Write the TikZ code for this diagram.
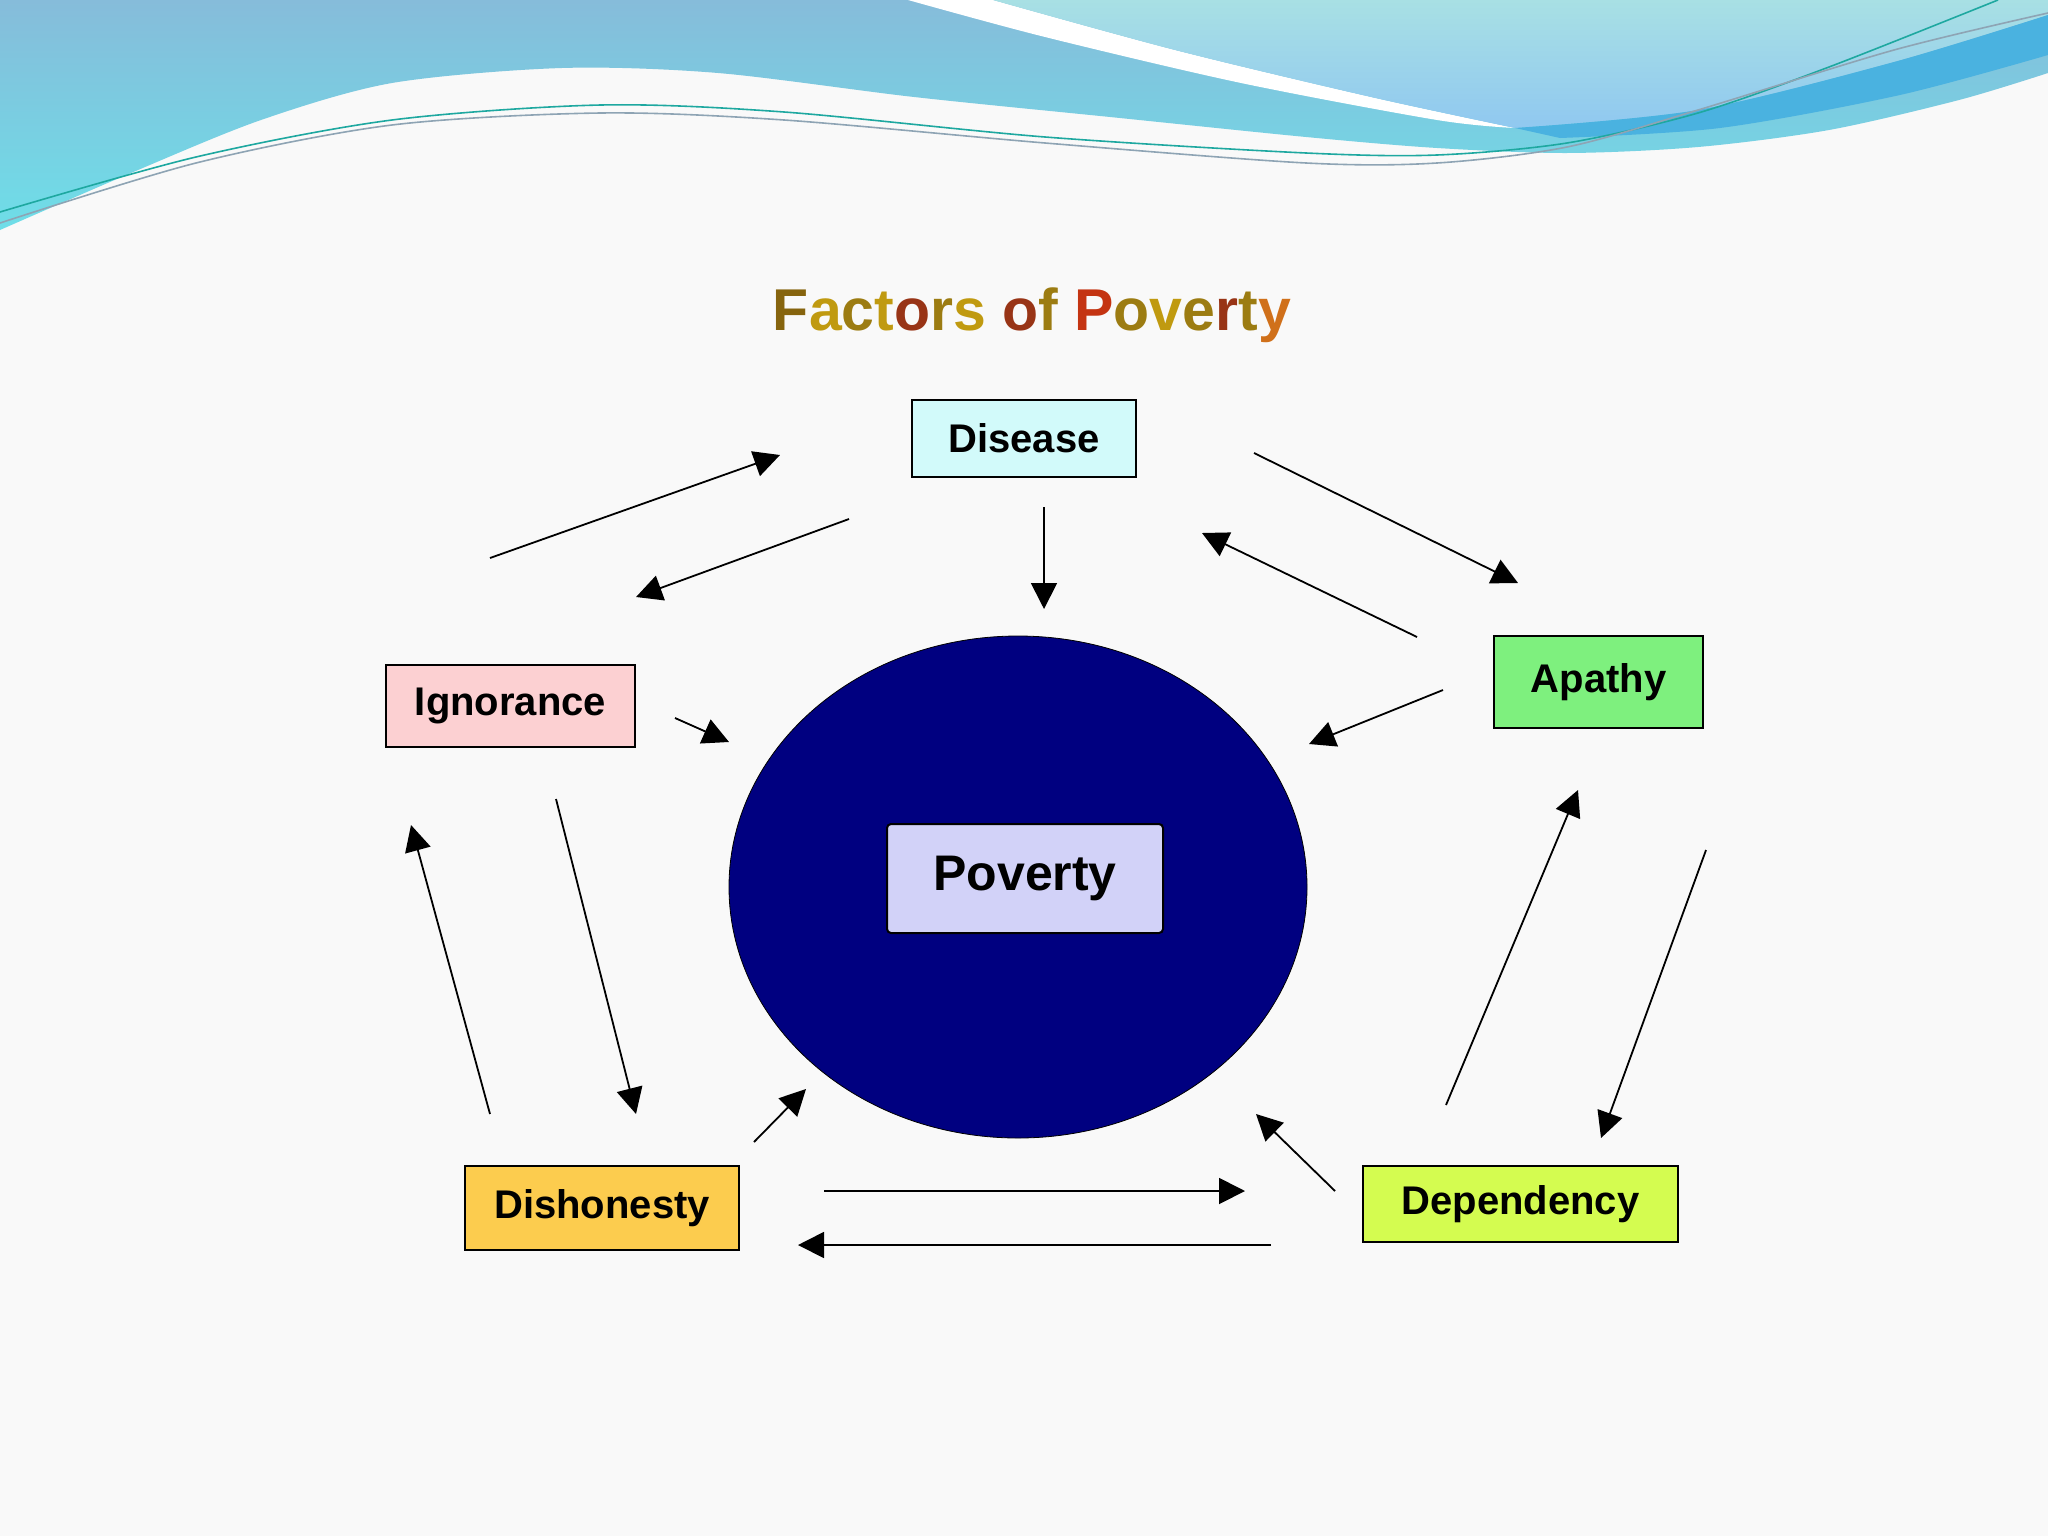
\documentclass[tikz,border=0pt]{standalone}
\usepackage{fontspec}
\setmainfont{Liberation Sans}
\usetikzlibrary{arrows.meta,shapes.geometric}

\definecolor{pagebg}{HTML}{F9F9F9}
\definecolor{waveTop}{HTML}{86BCDA}
\definecolor{waveLow}{HTML}{6EDEE8}
\definecolor{capTop}{HTML}{A8E0E4}
\definecolor{capLow}{HTML}{90C8F0}
\definecolor{band}{HTML}{4AB2E0}
\definecolor{tealline}{HTML}{1EA8A0}
\definecolor{greyline}{HTML}{8EA4B4}
\definecolor{cDisease}{HTML}{D2FAFA}
\definecolor{cIgnorance}{HTML}{FCD0D2}
\definecolor{cPoverty}{HTML}{D2D2F8}
\definecolor{cApathy}{HTML}{7EF07E}
\definecolor{cDishonesty}{HTML}{FCCC4E}
\definecolor{cDependency}{HTML}{D4FC50}
\definecolor{navy}{HTML}{000080}
\definecolor{tbrown}{HTML}{86640E}
\definecolor{tgold}{HTML}{C09A10}
\definecolor{tolive}{HTML}{9C7C12}
\definecolor{tred}{HTML}{983416}
\definecolor{tpee}{HTML}{C43412}
\definecolor{torange}{HTML}{D0701A}

\newcommand{\tc}[2]{\textcolor{#1}{#2}}

\begin{document}
\begin{tikzpicture}[x=0.5pt,y=-0.5pt,
  factor/.style={draw=black,line width=1pt,inner sep=0pt,
    font=\bfseries\fontsize{20}{24}\selectfont},
  link/.style={line width=0.9pt,-{Triangle[length=13pt,width=13pt]}}]
\useasboundingbox (0,0) rectangle (2048,1536);
\fill[pagebg] (0,0) rectangle (2048,1536);

% header wave
\shade[top color=waveTop,bottom color=waveLow] (0,0) -- (2048,0) -- plot[smooth] coordinates
  {(2048,73) (1959,100) (1829,130) (1698,147) (1567,153) (1437,148) (1306,137) (1110,117)
   (914,97) (718,73) (562,68) (392,83) (261,120) (131,173) (0,230)} -- cycle;
\fill[white] plot[smooth] coordinates {(908,0) (1045,37) (1241,83) (1437,120) (1515,128)}
  -- plot[smooth] coordinates {(1515,128) (1371,97) (1175,50) (993,0)} -- cycle;
\shade[top color=capTop,bottom color=capLow] (993,0) -- (2048,0) -- (2048,15)
  -- plot[smooth] coordinates {(2048,15) (1894,62) (1698,110) (1515,128)}
  -- plot[smooth] coordinates {(1515,128) (1371,97) (1175,50) (993,0)} -- cycle;
\fill[band] plot[smooth] coordinates {(1515,128) (1698,110) (1894,62) (2048,15)}
  -- (2048,55) -- plot[smooth] coordinates {(2048,55) (1900,95) (1720,128) (1560,138)} -- cycle;
\draw[tealline,line width=0.8pt] plot[smooth] coordinates {(0,212) (196,157) (392,120) (601,105)
  (784,112) (1045,137) (1306,153) (1437,155) (1567,143) (1698,113) (1829,67) (1998,0)};
\draw[greyline,line width=0.8pt] plot[smooth] coordinates {(0,223) (196,163) (392,125) (601,113)
  (784,120) (1045,143) (1306,163) (1437,163) (1567,147) (1698,110) (1894,50) (2048,13)};

% title
\node[anchor=base,font=\bfseries\fontsize{29.5}{34}\selectfont] (title) at (1032,330)
  {\tc{tbrown}{F}\tc{tgold}{a}\tc{tolive}{c}\tc{tgold}{t}\tc{tred}{o}\tc{tolive}{r}\tc{tgold}{s}
   \tc{tred}{o}\tc{tolive}{f}
   \tc{tpee}{P}\tc{tolive}{o}\tc{tgold}{v}\tc{tolive}{e}\tc{tred}{r}\tc{tolive}{t}\tc{torange}{y}};

% circle and factors
\node[ellipse,fill=navy,draw=black,inner sep=0pt,minimum width=289pt,minimum height=251pt]
  (ring) at (1018,887) {};
\node[factor,fill=cPoverty,rounded corners=2pt,minimum width=138pt,minimum height=54.5pt,
  font=\bfseries\fontsize{25}{30}\selectfont] (poverty) at (1025,878.5) {Poverty};
\node[factor,fill=cDisease,minimum width=112pt,minimum height=38.5pt] (disease) at (1024,438.5) {Disease};
\node[factor,fill=cIgnorance,minimum width=124.5pt,minimum height=41pt] (ignorance) at (510.5,706) {Ignorance};
\node[factor,fill=cApathy,minimum width=104.5pt,minimum height=46pt] (apathy) at (1598.5,682) {Apathy};
\node[factor,fill=cDishonesty,minimum width=137pt,minimum height=42pt] (dishonesty) at (602,1208) {Dishonesty};
\node[factor,fill=cDependency,minimum width=157.5pt,minimum height=38pt] (dependency) at (1520.5,1204) {Dependency};

% arrow ends
\coordinate (igdis-a) at (490,558);   \coordinate (igdis-b) at (780,455);
\coordinate (disig-a) at (849,519);   \coordinate (disig-b) at (636,597);
\coordinate (dispov-a) at (1044,507); \coordinate (dispov-b) at (1044,609);
\coordinate (disap-a) at (1254,453);  \coordinate (disap-b) at (1518,583);
\coordinate (apdis-a) at (1417,637);  \coordinate (apdis-b) at (1202,533);
\coordinate (appov-a) at (1443,690);  \coordinate (appov-b) at (1309,744);
\coordinate (igpov-a) at (675,718);   \coordinate (igpov-b) at (729,742);
\coordinate (igdsh-a) at (556,799);   \coordinate (igdsh-b) at (636,1114);
\coordinate (dshig-a) at (490,1114);  \coordinate (dshig-b) at (411,825);
\coordinate (dshpov-a) at (754,1142); \coordinate (dshpov-b) at (806,1089);
\coordinate (dshdep-a) at (824,1191); \coordinate (dshdep-b) at (1245,1191);
\coordinate (depdsh-a) at (1271,1245);\coordinate (depdsh-b) at (798,1245);
\coordinate (deppov-a) at (1335,1191);\coordinate (deppov-b) at (1256,1114);
\coordinate (depap-a) at (1446,1105); \coordinate (depap-b) at (1578,790);
\coordinate (apdep-a) at (1706,850);  \coordinate (apdep-b) at (1601,1138);

\foreach \n in {igdis,disig,dispov,disap,apdis,appov,igpov,igdsh,dshig,dshpov,dshdep,depdsh,deppov,depap,apdep}
  \draw[link] (\n-a) -- (\n-b);
\end{tikzpicture}
\end{document}
